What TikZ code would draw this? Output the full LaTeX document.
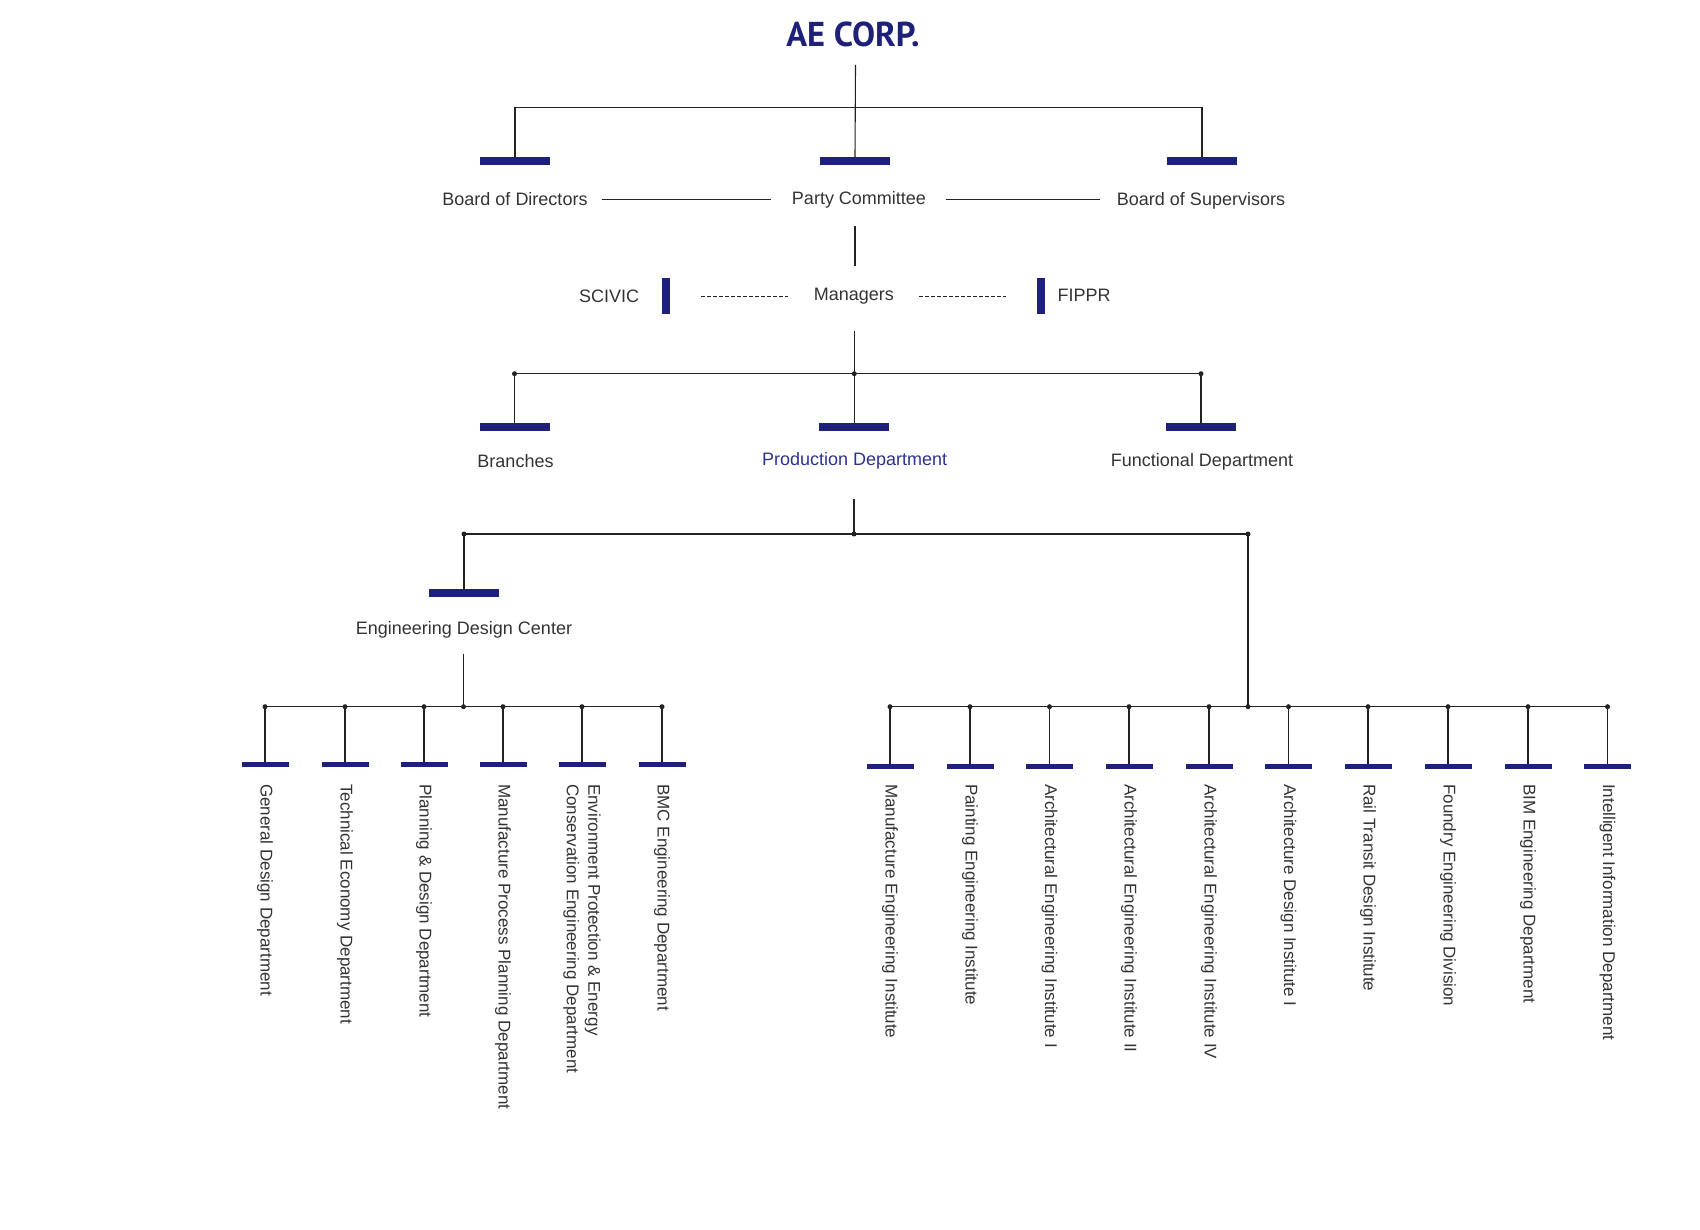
\documentclass[tikz,border=0pt]{standalone}
\usepackage{fontspec}
\setmainfont{Liberation Sans}
\newfontfamily\titlefont{PT Sans}

\definecolor{navy}{RGB}{31,33,120}
\definecolor{prodblue}{RGB}{45,50,145}
\definecolor{ink}{RGB}{51,51,51}
\definecolor{wire}{RGB}{34,34,34}

\begin{document}
\begin{tikzpicture}[x=1pt, y=-1pt,
    line/.style={draw=wire, line width=1.1pt},
    dotline/.style={draw=wire, line width=1pt, dash pattern=on 4pt off 2pt},
    bar/.style={fill=navy, minimum width=70pt, minimum height=8pt, inner sep=0pt},
    tab/.style={fill=navy, minimum width=47pt, minimum height=5pt, inner sep=0pt},
    post/.style={fill=navy, minimum width=8pt, minimum height=36pt, inner sep=0pt},
    knot/.style={circle, fill=wire, inner sep=0pt, minimum size=5pt},
    lbl/.style={anchor=base, inner sep=0pt, text=ink, font=\fontsize{18}{21}\selectfont},
    dept/.style={anchor=west, rotate=-90, inner sep=0pt, text=ink, align=left, font=\fontsize{17}{21.7}\selectfont}]
    \useasboundingbox (0,0) rectangle (1700,1230);

    % top
    \node[anchor=base, inner sep=0pt, text=navy, font=\titlefont\fontsize{34.5}{38}\bfseries\selectfont] (corp) at (853,46.7) {AE CORP.};
    \coordinate (corpfoot) at (855.5,65);
    \coordinate (hub) at (855.5,107.3);
    \node[bar] (bdbar) at (515,161) {};
    \node[bar] (pcbar) at (855,161) {};
    \node[bar] (bsbar) at (1202,161) {};
    \draw[line] (corpfoot) -- (pcbar.north);
    \draw[line] (bdbar.north) |- (hub) -| (bsbar.north);
    \node[lbl] (bd) at (515,205.7) {Board of Directors};
    \node[lbl] (pc) at (859,205) {Party Committee};
    \node[lbl] (bs) at (1201,205.5) {Board of Supervisors};
    \draw[line] ([xshift=14pt]bd.east) -- ([xshift=-21pt]bd.east -| pc.west);
    \draw[line] ([xshift=20pt]pc.east |- bd.east) -- ([xshift=-16.6pt]bs.west |- bd.east);

    % managers
    \node[lbl] (mgr) at (853.8,300.7) {Managers};
    \draw[line, shorten <=17pt, shorten >=22pt] (pcbar.south |- pc.south) -- (pcbar.south |- mgr.north);
    \node[lbl] (scivic) at (609,302.3) {SCIVIC};
    \node[post] (scivicpost) at (666,296.2) {};
    \node[lbl] (fippr) at (1084,302) {FIPPR};
    \node[post] (fipprpost) at (1041,296.2) {};
    \draw[dotline, shorten <=31pt, shorten >=25.6pt] (scivicpost.east) -- (scivicpost.east -| mgr.west);
    \draw[dotline, shorten <=25pt, shorten >=31pt] (mgr.east |- fipprpost.west) -- (fipprpost.west);

    % departments
    \coordinate (hub2) at (854.3,373.7);
    \draw[line, shorten <=26.5pt] (hub2 |- mgr.south) -- (hub2);
    \node[bar] (brbar) at (514.5,427) {};
    \node[bar] (prodbar) at (854.3,427) {};
    \node[bar] (funcbar) at (1201,427) {};
    \draw[line] (brbar.north) |- (hub2) -| (funcbar.north);
    \draw[line] (hub2) -- (prodbar.north);
    \node[knot] (brknot) at (brbar.north |- hub2) {};
    \node[knot] (prodknot) at (hub2) {};
    \node[knot] (funcknot) at (funcbar.north |- hub2) {};
    \node[lbl] (br) at (515.5,467.3) {Branches};
    \node[lbl, text=prodblue] (prod) at (854.7,465.7) {Production Department};
    \node[lbl] (func) at (1202,466.7) {Functional Department};

    % production
    \coordinate (hub3) at (854,534);
    \coordinate (mfgjoin) at (1248,706.7);
    \draw[line, shorten <=29pt] (hub3 |- prod.south) -- (hub3);
    \node[bar] (edcbar) at (464,592.8) {};
    \draw[line] (edcbar.north) |- (hub3) -| (mfgjoin);
    \node[knot] (edcknot) at (edcbar.north |- hub3) {};
    \node[knot] (hub3knot) at (hub3) {};
    \node[knot] (mfgknot) at (mfgjoin |- hub3) {};
    \node[lbl] (edc) at (464,634) {Engineering Design Center};
    \coordinate (edcjoin) at (463.5,706.7);
    \draw[line, shorten <=16pt] (edcjoin |- edc.south) -- (edcjoin);

    % engineering design center
    \node[tab] (gdtab) at (265,764.3) {};
    \node[tab] (tetab) at (345,764.3) {};
    \node[tab] (pdtab) at (424,764.3) {};
    \node[tab] (mpptab) at (503,764.3) {};
    \node[tab] (epetab) at (582,764.3) {};
    \node[tab] (bmctab) at (662,764.3) {};
    \draw[line] (gdtab.north |- edcjoin) -- (bmctab.north |- edcjoin);
    \node[knot] (edcjoinknot) at (edcjoin) {};
    \draw[line] (gdtab.north) -- (gdtab.north |- edcjoin) node[knot] (gdknot) {};
    \draw[line] (tetab.north) -- (tetab.north |- edcjoin) node[knot] (teknot) {};
    \draw[line] (pdtab.north) -- (pdtab.north |- edcjoin) node[knot] (pdknot) {};
    \draw[line] (mpptab.north) -- (mpptab.north |- edcjoin) node[knot] (mppknot) {};
    \draw[line] (epetab.north) -- (epetab.north |- edcjoin) node[knot] (epeknot) {};
    \draw[line] (bmctab.north) -- (bmctab.north |- edcjoin) node[knot] (bmcknot) {};
    \node[dept] (gd) at (265,784) {General Design Department};
    \node[dept] (te) at (345,784) {Technical Economy Department};
    \node[dept] (pd) at (424,784) {Planning \& Design Department};
    \node[dept] (mpp) at (503,784) {Manufacture Process Planning Department};
    \node[dept] (epe) at (582,784) {Environment Protection \& Energy\\Conservation Engineering Department};
    \node[dept] (bmc) at (662,784) {BMC Engineering Department};

    % institutes
    \node[tab] (meitab) at (890,766.3) {};
    \node[tab] (peitab) at (970,766.3) {};
    \node[tab] (aeitab) at (1049.5,766.3) {};
    \node[tab] (aeiitab) at (1129,766.3) {};
    \node[tab] (aeivtab) at (1209,766.3) {};
    \node[tab] (aditab) at (1288.5,766.3) {};
    \node[tab] (rtditab) at (1368,766.3) {};
    \node[tab] (fedtab) at (1448,766.3) {};
    \node[tab] (bimtab) at (1528,766.3) {};
    \node[tab] (iidtab) at (1607.5,766.3) {};
    \draw[line] (meitab.north |- mfgjoin) -- (iidtab.north |- mfgjoin);
    \node[knot] (mfgjoinknot) at (mfgjoin) {};
    \draw[line] (meitab.north) -- (meitab.north |- mfgjoin) node[knot] (meiknot) {};
    \draw[line] (peitab.north) -- (peitab.north |- mfgjoin) node[knot] (peiknot) {};
    \draw[line] (aeitab.north) -- (aeitab.north |- mfgjoin) node[knot] (aeiknot) {};
    \draw[line] (aeiitab.north) -- (aeiitab.north |- mfgjoin) node[knot] (aeiiknot) {};
    \draw[line] (aeivtab.north) -- (aeivtab.north |- mfgjoin) node[knot] (aeivknot) {};
    \draw[line] (aditab.north) -- (aditab.north |- mfgjoin) node[knot] (adiknot) {};
    \draw[line] (rtditab.north) -- (rtditab.north |- mfgjoin) node[knot] (rtdiknot) {};
    \draw[line] (fedtab.north) -- (fedtab.north |- mfgjoin) node[knot] (fedknot) {};
    \draw[line] (bimtab.north) -- (bimtab.north |- mfgjoin) node[knot] (bimknot) {};
    \draw[line] (iidtab.north) -- (iidtab.north |- mfgjoin) node[knot] (iidknot) {};
    \node[dept] (mei) at (890,784) {Manufacture Engineering Institute};
    \node[dept] (pei) at (970,784) {Painting Engineering Institute};
    \node[dept] (aei) at (1049.5,784) {Architectural Engineering Institute I};
    \node[dept] (aeii) at (1129,784) {Architectural Engineering Institute II};
    \node[dept] (aeiv) at (1209,784) {Architectural Engineering Institute IV};
    \node[dept] (adi) at (1288.5,784) {Architecture Design Institute I};
    \node[dept] (rtdi) at (1368,784) {Rail Transit Design Institute};
    \node[dept] (fed) at (1448,784) {Foundry Engineering Division};
    \node[dept] (bim) at (1528,784) {BIM Engineering Department};
    \node[dept] (iid) at (1607.5,784) {Intelligent Information Department};
\end{tikzpicture}
\end{document}
